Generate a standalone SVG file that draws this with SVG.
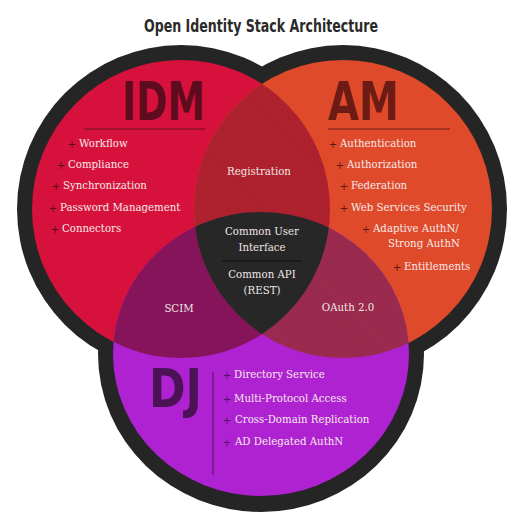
<svg xmlns="http://www.w3.org/2000/svg" width="523" height="528" viewBox="0 0 523 528">
<style>
.title{font-family:"DejaVu Sans Condensed","DejaVu Sans",sans-serif;font-weight:bold;font-size:17px;fill:#2a2a2a}
.big{font-family:"DejaVu Sans Condensed","DejaVu Sans",sans-serif;font-weight:bold;font-size:53px}
.it{font-family:"DejaVu Serif","Liberation Serif",serif;font-size:10.2px;fill:#f6e9e9}
.ct{font-family:"DejaVu Serif","Liberation Serif",serif;font-size:10.2px;fill:#f0e6e6;text-anchor:middle}
.pl{font-family:"DejaVu Sans",sans-serif;font-size:10px;text-anchor:middle}
.ring{fill:#252525}
.rule{stroke-width:1}
</style>
<defs>
<clipPath id="cIDM"><circle cx="181" cy="209" r="149"/></clipPath>
<clipPath id="cAM"><circle cx="343" cy="209" r="149"/></clipPath>
<pattern id="hatch" width="2.5" height="2.5" patternUnits="userSpaceOnUse" patternTransform="rotate(45)">
<rect width="2.5" height="0.8" fill="#000" fill-opacity="0.12"/>
</pattern>
</defs>
<rect width="523" height="528" fill="#ffffff"/>
<text class="title" x="261" y="32" text-anchor="middle" textLength="234" lengthAdjust="spacingAndGlyphs">Open Identity Stack Architecture</text>

<g id="outline">
<circle class="ring" cx="181" cy="209" r="164"/>
<circle class="ring" cx="343" cy="209" r="164"/>
<ellipse class="ring" cx="261" cy="354" rx="163" ry="158"/>
</g>

<g id="IDM">
<circle cx="181" cy="209" r="149" fill="#d6123c"/>
</g>
<g id="AM">
<circle cx="343" cy="209" r="149" fill="#df4a2b"/>
</g>
<g id="DJ">
<ellipse cx="261" cy="354" rx="148" ry="142" fill="#ae22d2"/>
</g>

<g id="overlaps">
<g clip-path="url(#cIDM)">
<circle cx="343" cy="209" r="149" fill="#b52230"/>
<circle cx="343" cy="209" r="149" fill="url(#hatch)"/>
<ellipse cx="261" cy="354" rx="148" ry="142" fill="#85145a"/>
</g>
<g clip-path="url(#cAM)">
<ellipse cx="261" cy="354" rx="148" ry="142" fill="#a02c52"/>
<ellipse cx="261" cy="354" rx="148" ry="142" fill="url(#hatch)"/>
</g>
<g clip-path="url(#cIDM)"><g clip-path="url(#cAM)">
<ellipse cx="261" cy="354" rx="148" ry="142" fill="#272727"/>
</g></g>
</g>

<g id="IDM-labels">
<text class="big" x="122" y="120" fill="#5e0a1f" textLength="83" lengthAdjust="spacingAndGlyphs">IDM</text>
<line x1="84" y1="129" x2="205" y2="129" stroke="#6a0f22" class="rule"/>
<g class="pl" fill="#5a0a18">
<text x="72" y="148">+</text><text x="61" y="169">+</text><text x="56" y="190">+</text><text x="53" y="212">+</text><text x="55" y="233">+</text>
</g>
<text class="it" x="79" y="147">Workflow</text>
<text class="it" x="68" y="168">Compliance</text>
<text class="it" x="63" y="189">Synchronization</text>
<text class="it" x="60" y="211">Password Management</text>
<text class="it" x="62" y="232">Connectors</text>
</g>

<g id="AM-labels">
<text class="big" x="328" y="120" fill="#6c1c14" textLength="71" lengthAdjust="spacingAndGlyphs">AM</text>
<line x1="328" y1="129" x2="450" y2="129" stroke="#6c1c14" class="rule"/>
<g class="pl" fill="#5e1a10">
<text x="333" y="148">+</text><text x="340" y="169">+</text><text x="344" y="190">+</text><text x="344" y="212">+</text><text x="366" y="233">+</text><text x="397" y="271">+</text>
</g>
<text class="it" x="340" y="147">Authentication</text>
<text class="it" x="347" y="168">Authorization</text>
<text class="it" x="351" y="189">Federation</text>
<text class="it" x="351" y="211">Web Services Security</text>
<text class="it" x="373" y="232">Adaptive AuthN/</text>
<text class="it" x="388" y="247">Strong AuthN</text>
<text class="it" x="404" y="270">Entitlements</text>
</g>

<g id="shared-labels">
<text class="ct" x="259" y="175">Registration</text>
<text class="ct" x="262" y="235">Common User</text>
<text class="ct" x="262" y="251">Interface</text>
<line x1="222" y1="261" x2="302" y2="261" stroke="#111111" class="rule"/>
<text class="ct" x="262" y="278">Common API</text>
<text class="ct" x="262" y="294">(REST)</text>
<text class="ct" x="179" y="312">SCIM</text>
<text class="ct" x="348" y="311">OAuth 2.0</text>
</g>

<g id="DJ-labels">
<text class="big" x="149" y="407" fill="#4c1256" font-size="49" textLength="53" lengthAdjust="spacingAndGlyphs">DJ</text>
<line x1="213" y1="372" x2="213" y2="475" stroke="#4c1256" class="rule"/>
<g class="pl" fill="#561468">
<text x="227" y="379">+</text><text x="227" y="403">+</text><text x="227" y="424">+</text><text x="227" y="446">+</text>
</g>
<text class="it" x="234" y="378">Directory Service</text>
<text class="it" x="234" y="402">Multi-Protocol Access</text>
<text class="it" x="235" y="423">Cross-Domain Replication</text>
<text class="it" x="235" y="445">AD Delegated AuthN</text>
</g>
</svg>
